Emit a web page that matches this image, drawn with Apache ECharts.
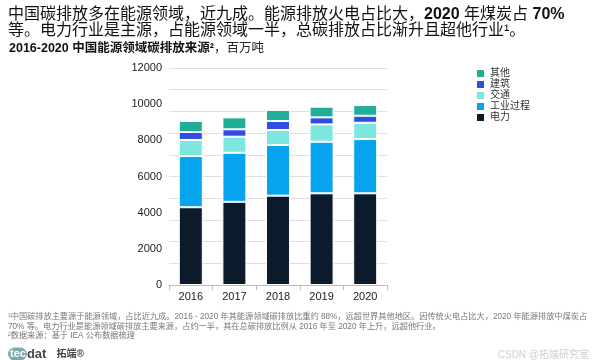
<!DOCTYPE html>
<html>
<head>
<meta charset="utf-8">
<script src="https://cdn.jsdelivr.net/npm/echarts@6/dist/echarts.min.js"></script>
<style>html,body{margin:0;padding:0;background:#fff;}#c{width:600px;height:360px;}</style>
</head>
<body>
<div id="c"></div>
<script>
const years = ['2016', '2017', '2018', '2019', '2020'];
const seriesNames = ['电力', '工业过程', '交通', '建筑', '其他'];
const power = [4300, 4600, 4940, 5070, 5070];
const industry = [2830, 2710, 2800, 2850, 3000];
const transport = [890, 890, 830, 960, 900];
const building = [440, 410, 500, 390, 390];
const other = [610, 660, 610, 590, 590];
const yTickLabels = ['0', '2000', '4000', '6000', '8000', '10000', '12000'];

const colors = ['#0b1b2b', '#06a4ee', '#7ee6e0', '#2d4ee3', '#1fae97'];
const values = [power, industry, transport, building, other];
const FONT = '"Liberation Sans", "Noto Sans CJK SC", sans-serif';
const CJK = '"Liberation Sans", "Noto Sans CJK SC", sans-serif';

const chart = echarts.init(document.getElementById('c'), null, {renderer: 'canvas'});
chart.setOption({
  animation: false,
  backgroundColor: '#ffffff',
  title: [
    {
      left: 3, top: 2,
      text: '中国碳排放多在能源领域，近九成。能源排放火电占比大，{b|2020} 年煤炭占 {b|70%}\n等。电力行业是主源，占能源领域一半，总碳排放占比渐升且超他行业¹。',
      textStyle: {
        fontFamily: CJK, fontSize: 16, lineHeight: 16, color: '#111', fontWeight: 'normal',
        rich: { b: { fontFamily: FONT, fontSize: 16, fontWeight: 'bold', color: '#111', lineHeight: 16 } }
      }
    },
    {
      left: 4, top: 37,
      text: '{b|2016-2020 中国能源领域碳排放来源²}，百万吨',
      textStyle: {
        fontFamily: CJK, fontSize: 12.5, color: '#222', fontWeight: 'normal',
        rich: { b: { fontFamily: CJK, fontSize: 12.5, fontWeight: 'bold', color: '#111' } }
      }
    },
    {
      left: 3, top: 307,
      text: '¹中国碳排放主要源于能源领域，占比近九成。2016 - 2020 年其能源领域碳排放比重约 88%，远超世界其他地区。因传统火电占比大，2020 年能源排放中煤炭占\n70% 等。电力行业是能源领域碳排放主要来源，占约一半，其在总碳排放比例从 2016 年至 2020 年上升，远超他行业。\n²数据来源：基于 IEA 公布数据梳理',
      textStyle: { fontFamily: CJK, fontSize: 8.2, lineHeight: 9.5, color: '#777', fontWeight: 'normal' }
    },
    {
      left: 3, top: 340,
      text: '{a|tec}{d|dat}  {c|拓端®}',
      textStyle: {
        rich: {
          a: { fontFamily: FONT, fontSize: 11, color: '#fff', backgroundColor: '#7fa9ad', borderRadius: 7, padding: [1, 1, 1, 2] },
          d: { fontFamily: FONT, fontSize: 13, color: '#444' },
          c: { fontFamily: CJK, fontSize: 10, color: '#444', fontWeight: 'bold' }
        }
      }
    },
    {
      right: 6, top: 345,
      text: 'CSDN @拓端研究室',
      textStyle: { fontFamily: CJK, fontSize: 10, color: '#cfcfcf', fontWeight: 'normal' }
    }
  ],
  legend: {
    orient: 'vertical', left: 470, top: 63,
    itemWidth: 9, itemHeight: 9, itemGap: 0,
    icon: 'rect',
    data: seriesNames.slice().reverse(),
    textStyle: { fontFamily: CJK, fontSize: 10, color: '#333', padding: [0, 0, 0, 0] }
  },
  grid: { left: 169, right: 213, top: 68, bottom: 75, containLabel: false },
  xAxis: {
    type: 'category', data: years,
    axisLine: { show: true, lineStyle: { color: '#bbb', width: 1 } },
    axisTick: { show: true, alignWithLabel: false, length: 5, lineStyle: { color: '#bbb' } },
    axisLabel: { fontFamily: FONT, fontSize: 11, color: '#222', margin: 6 }
  },
  yAxis: [
    {
      type: 'value', min: 0, max: 12000, interval: 2000,
      axisLine: { show: false }, axisTick: { show: false },
      splitLine: { show: false },
      axisLabel: { fontFamily: FONT, fontSize: 11, color: '#222', margin: 7,
        formatter: function (v) { return yTickLabels[Math.round(v / 2000)] || ''; } }
    },
    {
      type: 'value', min: 0, max: 12000, interval: 1200, position: 'left',
      axisLine: { show: false }, axisTick: { show: false }, axisLabel: { show: false },
      splitLine: { show: true, lineStyle: { color: '#dedede', width: 1 } }
    }
  ],
  series: seriesNames.map(function (name, i) {
    return {
      name: name, type: 'bar', stack: 'total', barWidth: '55%',
      yAxisIndex: 0,
      itemStyle: { color: colors[i], borderColor: '#ffffff', borderWidth: 1 },
      data: values[i]
    };
  })
});
</script>
</body>
</html>
